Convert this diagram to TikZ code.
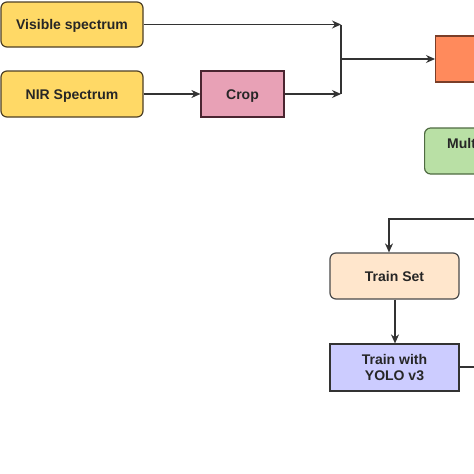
\documentclass[tikz,border=0pt]{standalone}
\usepackage{fontspec}
\setmainfont{Liberation Sans}
\usetikzlibrary{arrows.meta}
\definecolor{yfill}{HTML}{FFD966}\definecolor{ydraw}{HTML}{4D4026}
\definecolor{pfill}{HTML}{E8A1B6}\definecolor{pdraw}{HTML}{4A2530}
\definecolor{ofill}{HTML}{FF8A5C}\definecolor{odraw}{HTML}{7A3E28}
\definecolor{gfill}{HTML}{B9E0A5}\definecolor{gdraw}{HTML}{4F6B42}
\definecolor{tfill}{HTML}{FFE6CC}\definecolor{tdraw}{HTML}{4A4A4A}
\definecolor{bfill}{HTML}{CCCCFF}\definecolor{bdraw}{HTML}{333333}
\definecolor{linec}{HTML}{333333}
\begin{document}
\begin{tikzpicture}[x=1pt,y=-1pt,
  box/.style={draw, line width=1.2pt, inner sep=0pt, font=\fontsize{14}{16}\selectfont\bfseries, text=black!85, align=center},
  onel/.style={text height=10pt, text depth=0pt},
  rbox/.style={box, rounded corners=6pt},
  conn/.style={draw=linec, line width=1.2pt},
  arr/.style={conn, -{Stealth[length=9pt,width=8pt]}}]
\useasboundingbox (0,0) rectangle (474,474);
\clip (0,0) rectangle (474,474);
\fill[white] (0,0) rectangle (474,474);
\node[rbox, onel, fill=yfill, draw=ydraw, minimum width=142pt, minimum height=45pt] (vis) at (72,24.5) {Visible spectrum};
\node[rbox, onel, fill=yfill, draw=ydraw, minimum width=142pt, minimum height=46pt] (nir) at (72,94) {NIR Spectrum};
\node[box, onel, fill=pfill, draw=pdraw, minimum width=83pt, minimum height=46pt] (crop) at (242.5,94) {Crop};
\node[box, fill=ofill, draw=odraw, minimum width=100pt, minimum height=46pt, anchor=west] (fuse) at (435,59) {};
\node[rbox, fill=gfill, draw=gdraw, minimum width=110pt, minimum height=46pt, anchor=west] (multi) at (424,151) {};
\node[anchor=base west, inner sep=0pt, font=\fontsize{14}{16}\selectfont\bfseries, text=black!85] (multitext) at (447,148.5) {Mult};
\node[rbox, onel, fill=tfill, draw=tdraw, minimum width=129pt, minimum height=46pt] (train) at (394.5,276) {Train Set};
\node[box, fill=bfill, draw=bdraw, minimum width=129pt, minimum height=47pt] (yolo) at (394.5,367.5) {Train with\\YOLO v3};
\coordinate (j) at (341,59);
\coordinate (jt) at (341,24.5);
\coordinate (jb) at (341,94);
\coordinate (topr) at (480,219);
\coordinate (topl) at (389,219);
\coordinate (yr) at (480,367);
\draw[arr] (vis.east) -- (jt);
\draw[arr] (nir.east) -- (crop.west);
\draw[arr] (crop.east) -- (jb);
\draw[conn] (jt) -- (jb);
\draw[arr] (j) -- (fuse.west);
\draw[arr] (topr) -- (topl) -- (topl |- train.north);
\draw[arr] (train.south -| 395,0) -- (yolo.north -| 395,0);
\draw[conn] (yolo.east |- yr) -- (yr);
\end{tikzpicture}
\end{document}
